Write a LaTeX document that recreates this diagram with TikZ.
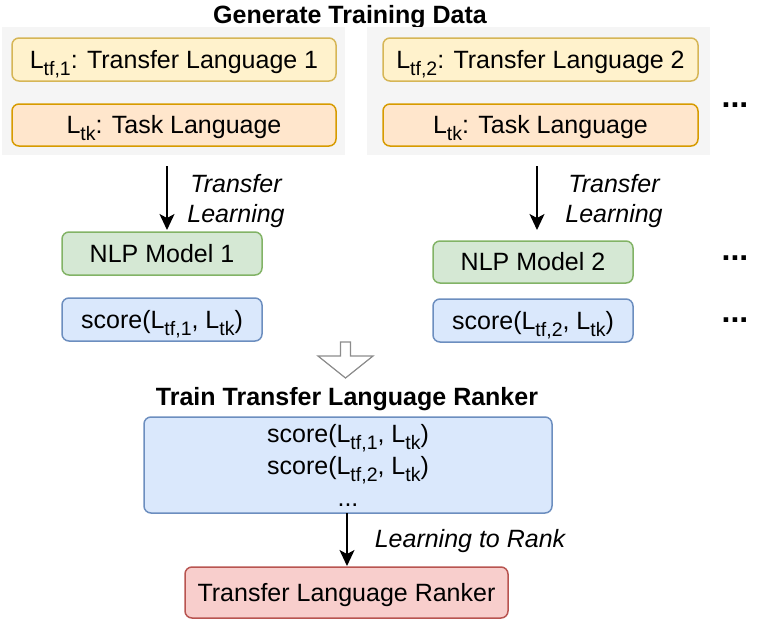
\documentclass[tikz,border=0pt]{standalone}
\usepackage{fontspec}
\setmainfont{Liberation Sans}
\usetikzlibrary{arrows.meta}
\definecolor{yelF}{HTML}{FFF2CC}\definecolor{yelD}{HTML}{D6B656}
\definecolor{oraF}{HTML}{FFE6CC}\definecolor{oraD}{HTML}{D79B00}
\definecolor{grnF}{HTML}{D5E8D4}\definecolor{grnD}{HTML}{82B366}
\definecolor{bluF}{HTML}{DAE8FC}\definecolor{bluD}{HTML}{6C8EBF}
\definecolor{redF}{HTML}{F8CECC}\definecolor{redD}{HTML}{B85450}
\definecolor{bgG}{HTML}{F5F5F5}
\definecolor{hollowD}{HTML}{8C8C8C}
\newcommand{\lsb}[1]{\raisebox{-7pt}{\fontsize{19.5}{19.5}\selectfont #1}}
\tikzset{
  txt/.style={font=\fontsize{25}{30}\selectfont, inner sep=0pt},
  boxx/.style={txt, rounded corners=7pt, line width=1.5pt, align=center},
  one/.style={text height=18pt, text depth=1pt},
  yelbox/.style={boxx, one, fill=yelF, draw=yelD},
  orabox/.style={boxx, one, fill=oraF, draw=oraD},
  grnbox/.style={boxx, one, fill=grnF, draw=grnD},
  blubox/.style={boxx, fill=bluF, draw=bluD},
  redbox/.style={boxx, one, fill=redF, draw=redD},
  bgbox/.style={fill=bgG, draw=none, inner sep=0pt},
  lbl/.style={txt, font=\fontsize{25}{30}\selectfont\itshape, align=center},
  ttl/.style={txt, font=\fontsize{25}{30}\selectfont\bfseries},
  dots/.style={txt, font=\fontsize{32}{32}\selectfont\bfseries},
  arr/.style={line width=1.5pt, -{Stealth[length=16pt,width=15pt,inset=4pt]}},
}
\begin{document}
\begin{tikzpicture}[x=1pt,y=-1pt]
\useasboundingbox (0,0) rectangle (758,624);
% titles
\node[ttl] (t1) at (350,17) {Generate Training Data};
% gray backgrounds
\node[bgbox, minimum width=343pt, minimum height=128pt] (g1) at (173.5,91) {};
\node[bgbox, minimum width=343pt, minimum height=128pt] (g2) at (538.5,91) {};
% language boxes
\node[yelbox, minimum width=324pt, minimum height=43pt] (y1) at (174,59.5) {L\lsb{tf,1}: Transfer Language 1};
\node[orabox, minimum width=324pt, minimum height=42pt] (o1) at (174,125) {L\lsb{tk}: Task Language};
\node[yelbox, minimum width=315pt, minimum height=43pt] (y2) at (540.5,59.5) {L\lsb{tf,2}: Transfer Language 2};
\node[orabox, minimum width=315pt, minimum height=42pt] (o2) at (540.5,125) {L\lsb{tk}: Task Language};
% models and scores
\node[grnbox, minimum width=200pt, minimum height=43pt] (n1) at (162,253.5) {NLP Model 1};
\node[blubox, one, minimum width=200pt, minimum height=43pt] (s1) at (162,319.5) {score(L\lsb{tf,1}, L\lsb{tk})};
\node[grnbox, minimum width=200pt, minimum height=42pt] (n2) at (533,262) {NLP Model 2};
\node[blubox, one, minimum width=200pt, minimum height=43pt] (s2) at (533,320.5) {score(L\lsb{tf,2}, L\lsb{tk})};
% transfer arrows
\coordinate (a1) at (167,166);
\coordinate (a1e) at (167,230);
\coordinate (a2) at (537,166);
\coordinate (a2e) at (537,230);
\draw[arr] (a1) -- (a1e);
\draw[arr] (a2) -- (a2e);
\node[lbl] (l1) at (236,201) {Transfer\\Learning};
\node[lbl] (l2) at (614,201) {Transfer\\Learning};
% dots
\node[dots] (d1) at (735,105) {...};
\node[dots] (d2) at (735,258) {...};
\node[dots] (d3) at (735,320) {...};
% hollow arrow
\draw[draw=hollowD, fill=white, line width=1.2pt, line join=miter]
  (340.5,342) -- (350.5,342) -- (350.5,356) -- (373,356) -- (345.5,378)
  -- (318,356) -- (340.5,356) -- cycle;
% ranker
\node[ttl] (t2) at (347,399) {Train Transfer Language Ranker};
\node[blubox, minimum width=408pt, minimum height=96pt] (big) at (348,465)
  {\parbox{300pt}{\centering\baselineskip=32pt
   score(L\lsb{tf,1}, L\lsb{tk})\\score(L\lsb{tf,2}, L\lsb{tk})\\...}};
\node[redbox, minimum width=323pt, minimum height=51pt] (rk) at (346.5,592.5) {Transfer Language Ranker};
\coordinate (a3) at (347,513);
\coordinate (a3e) at (347,566);
\draw[arr] (a3) -- (a3e);
\node[lbl] (l3) at (470,541) {Learning to Rank};
\end{tikzpicture}
\end{document}
